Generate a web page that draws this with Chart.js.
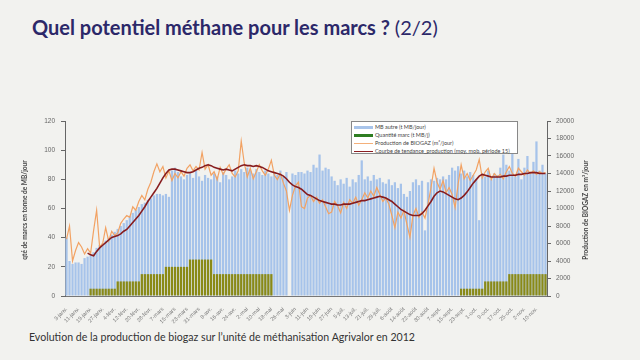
<!DOCTYPE html>
<html>
<head>
<meta charset="utf-8">
<script src="https://cdn.jsdelivr.net/npm/chart.js@4.4.0/dist/chart.umd.min.js"></script>
<style>
body { margin: 0; width: 640px; height: 360px; background: #f2f2ef; position: relative; overflow: hidden; font-family: Lato, "Open Sans", sans-serif; }
#title { position: absolute; left: 32px; top: 15px; font-size: 20px; font-weight: bold; color: #2c2869; white-space: nowrap; }
#title span { font-weight: normal; }
#caption { position: absolute; left: 29px; top: 331px; font-size: 10.6px; color: #333; white-space: nowrap; }
#wrap { position: absolute; left: 0; top: 108px; width: 640px; height: 222px; }
.ytitle { position: absolute; width: 140px; text-align: center; font-size: 6.5px; font-weight: bold; color: #444; transform: rotate(-90deg); white-space: nowrap; line-height: 8px; }
#legend { position: absolute; left: 351px; top: 121px; width: 167px; height: 33px; background: #fff; border: 1px solid #888; font-size: 5.5px; color: #444; padding-top: 1px; box-sizing: border-box; }
#legend div { height: 8px; line-height: 8px; white-space: nowrap; }
#legend i { display: inline-block; width: 19px; margin: 0 2px 0 2px; vertical-align: middle; }
</style>
</head>
<body>
<div id="title">Quel potentiel méthane pour les marcs ? <span>(2/2)</span></div>
<div id="wrap"><canvas id="myChart" width="640" height="222"></canvas></div>
<div class="ytitle" style="left:-45px; top:206px;">qté de marcs en tonne de MB/jour</div>
<div class="ytitle" style="left:516px; top:206px;">Production de BIOGAZ en m³/jour</div>
<div id="legend"></div>
<div id="caption">Evolution de la production de biogaz sur l’unité de méthanisation Agrivalor en 2012</div>
<script>
// one tick label every 8 days, data every 2 days (4 points per label)
var tickLabels = ['3-janv.', '11-janv.', '19-janv.', '27-janv.', '4-févr.', '12-févr.', '20-févr.', '28-févr.',
    '7-mars', '15-mars', '23-mars', '31-mars', '8-avr.', '16-avr.', '24-avr.', '2-mai', '10-mai', '18-mai', '26-mai',
    '3-juin', '11-juin', '19-juin', '27-juin', '5-juil.', '13-juil.', '21-juil.', '29-juil.', '6-août', '14-août',
    '22-août', '30-août', '7-sept.', '15-sept.', '23-sept.', '1-oct.', '9-oct.', '17-oct.', '25-oct.', '2-nov.', '10-nov.'];

var mbAutre = [
    40, 24, 22, 23, 23, 22, 26, 27, 28, 30,
    33, 35, 36, 38, 40, 42, 44, 46, 48, 50,
    52, 55, 57, 59, 61, 63, 64, 66, 67, 69,
    70, 70, 69, 70, 68, 86, 88, 85, 82, 80,
    83, 84, 81, 86, 82, 79, 83, 81, 80, 84,
    82, 78, 85, 83, 80, 82, 86, 84, 87, 85,
    88, 86, 84, 87, 85, 83, 86, 84, 82, 84,
    83, 86, 82, 85, 0, 84, 83, 85, 85, 84,
    86, 85, 90, 88, 97, 86, 88, 87, 82, 79,
    76, 80, 77, 81, 75, 80, 78, 83, 93, 80,
    82, 79, 83, 80, 81, 78, 77, 80, 76, 78,
    74, 77, 70, 68, 72, 78, 80, 76, 79, 45,
    78, 80, 79, 81, 80, 82, 80, 83, 88, 86,
    89, 84, 86, 82, 85, 83, 80, 52, 84, 82,
    86, 80, 84, 83, 88, 97, 90, 86, 98, 82,
    94, 80, 88, 96, 84, 92, 106, 86, 90, 84
];

var marc = [
    0, 0, 0, 0, 0, 0, 0, 0, 5, 5,
    5, 5, 5, 5, 5, 5, 5, 10, 10, 10,
    10, 10, 10, 10, 10, 15, 15, 15, 15, 15,
    15, 15, 15, 20, 20, 20, 20, 20, 20, 20,
    20, 25, 25, 25, 25, 25, 25, 25, 25, 15,
    15, 15, 15, 15, 15, 15, 15, 15, 15, 15,
    15, 15, 15, 15, 15, 15, 15, 15, 15, 0,
    0, 0, 0, 0, 0, 0, 0, 0, 0, 0,
    0, 0, 0, 0, 0, 0, 0, 0, 0, 0,
    0, 0, 0, 0, 0, 0, 0, 0, 0, 0,
    0, 0, 0, 0, 0, 0, 0, 0, 0, 0,
    0, 0, 0, 0, 0, 0, 0, 0, 0, 0,
    0, 0, 0, 0, 0, 0, 0, 0, 0, 0,
    0, 5, 5, 5, 5, 5, 5, 5, 5, 10,
    10, 10, 10, 10, 10, 10, 10, 15, 15, 15,
    15, 15, 15, 15, 15, 15, 15, 15, 15, 15
];

var biogaz = [
    6500, 8000, 4000, 5200, 6100, 5600, 4800, 5400, 4900, 7500,
    9800, 5600, 6000, 7800, 6300, 7400, 6900, 7200, 8300, 8800,
    9200, 9000, 10200, 9800, 10800, 11500, 11000, 12200, 13000, 14200,
    15100, 14200, 14800, 13500, 14300, 13200, 14000, 13500, 14200, 13700,
    14600, 15000, 14300, 14800, 14400, 16400, 14500, 15000, 13800, 14200,
    13300, 14700, 13900, 14500, 15000, 14000, 13600, 14300, 17700, 15200,
    13600, 14600, 13400, 14200, 15000, 14300, 13800, 14500, 15500, 13800,
    13300, 14000, 12900, 12000, 9800, 11500, 12600, 13000, 10200, 10000,
    11200, 11500, 10800, 11300, 10600, 11000, 10200, 9400, 9600, 10800,
    10300, 9500, 10700, 10000, 11000, 10600, 11300, 10400, 11000, 11800,
    11200, 12000, 11400, 12400, 11600, 10800, 11200, 10500, 9200, 7800,
    9600, 8900, 9800, 8200, 6700, 9200, 10000, 9000, 9600, 8900,
    10500, 12400, 14600, 13000, 12200, 13200, 11800, 12400, 11600, 10100,
    12800, 15000, 13400, 14000, 13200, 13800, 14400, 15600, 13500, 14200,
    14600, 13300, 14000, 13600, 13900, 13400, 14200, 14800, 14000, 13700,
    14600, 14200, 13800, 14400, 14000, 14300, 13900, 14200, 14000, 14100
];

var tendance = [
    null, null, null, null, null, null, null, 4900, 4700, 4600,
    5100, 5500, 5800, 6100, 6400, 6700, 6800, 6900, 7100, 7400,
    7600, 8000, 8400, 8800, 9200, 9700, 10200, 10800, 11300, 11800,
    12300, 12900, 13500, 14000, 14400, 14500, 14500, 14400, 14300, 14200,
    14100, 14100, 14200, 14400, 14600, 14700, 14900, 15000, 14900, 14700,
    14600, 14500, 14400, 14500, 14400, 14300, 14500, 14700, 14900, 15000,
    14900, 14900, 14800, 14900, 14800, 14700, 14500, 14300, 14200, 14100,
    14000, 13900, 13700, 13400, 13000, 12700, 12500, 12400, 12200, 11900,
    11600, 11500, 11300, 11100, 10900, 10800, 10700, 10600, 10500, 10500,
    10400, 10400, 10500, 10500, 10500, 10600, 10700, 10800, 10900, 10900,
    11000, 11100, 11200, 11300, 11400, 11300, 11200, 11000, 10800, 10500,
    10200, 9900, 9700, 9500, 9300, 9200, 9200, 9200, 9400, 9800,
    10300, 10800, 11400, 11800, 12000, 11900, 11700, 11500, 11300, 11100,
    11000, 11200, 11500, 11900, 12400, 12900, 13300, 13700, 13900, 13800,
    13700, 13600, 13600, 13600, 13600, 13700, 13700, 13800, 13800, 13800,
    13900, 13900, 14000, 14000, 14100, 14100, 14100, 14000, 14000, 14000
];

var labels = [];
for (var i = 0; i < tickLabels.length; i++) {
    labels.push(tickLabels[i], '', '', '');
}

var series = [
    { label: 'MB autre (t MB/jour)', color: '#a8c4ea', thick: true },
    { label: 'Quantité marc (t MB/j)', color: '#2e7d22', thick: true },
    { label: 'Production de BIOGAZ (m³/jour)', color: '#f4b07a', thick: false },
    { label: 'Courbe de tendance_production (moy. mob. période 15)', color: '#8b1f22', thick: false }
];
var legend = document.getElementById('legend');
series.forEach(function (s) {
    var row = document.createElement('div');
    row.innerHTML = '<i style="border-top:' + (s.thick ? 3 : 1) + 'px solid ' + s.color + '"></i>' + s.label;
    legend.appendChild(row);
});

var tickFont = { family: 'Arial, "Liberation Sans", sans-serif', size: 6.5 };

var ctx = document.getElementById('myChart').getContext('2d');
var myChart = new Chart(ctx, {
    type: 'bar',
    data: {
        labels: labels,
        datasets: [{
            type: 'line',
            label: series[3].label,
            data: tendance,
            yAxisID: 'y2',
            borderColor: '#871c1e',
            borderWidth: 1.6,
            pointRadius: 0,
            order: 0
        },
        {
            type: 'line',
            label: series[2].label,
            data: biogaz,
            yAxisID: 'y2',
            borderColor: '#f2a263',
            borderWidth: 1.2,
            pointRadius: 0,
            order: 1
        },
        {
            label: series[1].label,
            data: marc,
            yAxisID: 'y',
            backgroundColor: '#8a8a16',
            grouped: false,
            barPercentage: 0.75,
            categoryPercentage: 1,
            order: 2
        },
        {
            label: series[0].label,
            data: mbAutre,
            yAxisID: 'y',
            backgroundColor: '#a6c3ea',
            grouped: false,
            barPercentage: 0.75,
            categoryPercentage: 1,
            order: 3
        }]
    },
    options: {
        responsive: false,
        animation: false,
        layout: { padding: { left: 0, right: 0, top: 13, bottom: 0 } },
        plugins: { legend: { display: false }, tooltip: { enabled: false } },
        scales: {
            x: {
                afterFit: function (scale) { scale.height = 34; },
                grid: { display: false },
                border: { color: '#777' },
                ticks: {
                    autoSkip: false, minRotation: 45, maxRotation: 45,
                    font: { family: 'Arial, "Liberation Sans", sans-serif', size: 5.5 }, color: '#777', padding: 2
                }
            },
            y: {
                position: 'left',
                min: 0, max: 120,
                afterFit: function (scale) { scale.width = 65; },
                grid: { drawOnChartArea: false, tickLength: 4, color: '#666' },
                border: { color: '#666' },
                ticks: { stepSize: 20, font: tickFont, color: '#666', padding: 6 }
            },
            y2: {
                position: 'right',
                min: 0, max: 20000,
                afterFit: function (scale) { scale.width = 93; },
                grid: { drawOnChartArea: false, tickLength: 4, color: '#666' },
                border: { color: '#666' },
                ticks: {
                    stepSize: 2000, font: tickFont, color: '#666', padding: 5,
                    callback: function (v) { return String(v); }
                }
            }
        }
    }
});
</script>
</body>
</html>
